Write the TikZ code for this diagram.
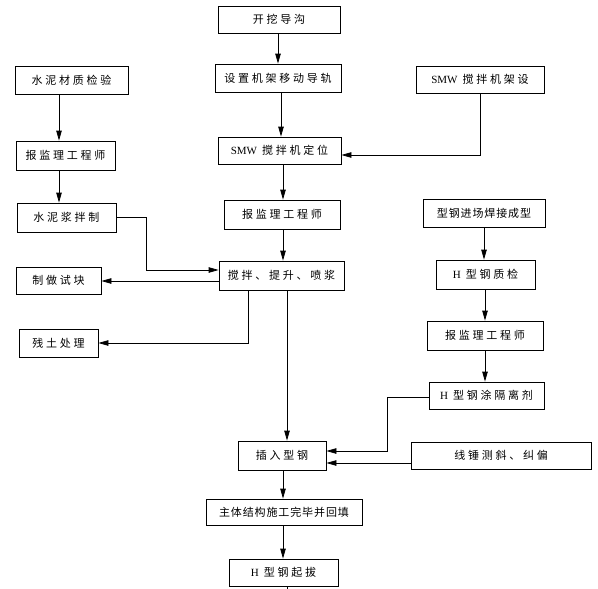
\documentclass[tikz,border=0pt]{standalone}
\usepackage{fontspec}
\setmainfont{Liberation Serif}
\newfontfamily\cjk[LetterSpace=25]{Noto Sans CJK SC}
\newfontfamily\cjktight[LetterSpace=8]{Noto Sans CJK SC}
\newfontfamily\latf{Liberation Serif}
\usetikzlibrary{arrows.meta}
\begin{document}
\begin{tikzpicture}[x=1pt,y=-1pt,
  box/.style={draw, line width=0.8pt, inner sep=0pt, font=\cjk\fontsize{11}{12}\selectfont},
  tight/.style={font=\cjktight\fontsize{11}{12}\selectfont},
  arr/.style={draw, line width=0.8pt, -{Triangle[length=10pt,width=5.5pt]}},
  ln/.style={draw, line width=0.8pt}]
\useasboundingbox (0,0) rectangle (598,589);
% nodes
\node[box, minimum width=122pt, minimum height=27pt] (kaiwa) at (279,19.5) {开挖导沟};
\node[box, minimum width=126pt, minimum height=28pt] (shezhi) at (278,78) {设置机架移动导轨};
\node[box, minimum width=123pt, minimum height=27pt] (dingwei) at (279.5,150.5) {{\latf SMW} 搅拌机定位};
\node[box, minimum width=113pt, minimum height=28pt] (snjy) at (71.5,80) {水泥材质检验};
\node[box, minimum width=99pt, minimum height=29pt] (bjL) at (65.5,155.5) {报监理工程师};
\node[box, minimum width=128pt, minimum height=27pt] (jiashe) at (480,79.5) {{\latf SMW} 搅拌机架设};
\node[box, minimum width=99pt, minimum height=29pt] (snj) at (66.5,217.5) {水泥浆拌制};
\node[box, minimum width=116pt, minimum height=29pt] (bjM) at (282,214.5) {报监理工程师};
\node[box, minimum width=125pt, minimum height=29pt] (jiaoban) at (281.5,275.5) {搅拌、提升、喷浆};
\node[box, minimum width=85pt, minimum height=27pt] (shikuai) at (58.5,280.5) {制做试块};
\node[box, minimum width=79pt, minimum height=28pt] (cantu) at (58.5,343) {残土处理};
\node[box, tight, minimum width=122pt, minimum height=28pt] (xinggang) at (484,213) {型钢进场焊接成型};
\node[box, minimum width=99pt, minimum height=29pt] (zhijian) at (485.5,274.5) {{\latf H} 型钢质检};
\node[box, minimum width=116pt, minimum height=29pt] (bjR) at (485,335.5) {报监理工程师};
\node[box, minimum width=115pt, minimum height=27pt] (tuge) at (486.5,395.5) {{\latf H} 型钢涂隔离剂};
\node[box, minimum width=88pt, minimum height=29pt] (charu) at (282,455.5) {插入型钢};
\node[box, minimum width=180pt, minimum height=27pt] (xianchui) at (501,455.5) {线锤测斜、纠偏};
\node[box, tight, minimum width=156pt, minimum height=26pt] (zhuti) at (284,512) {主体结构施工完毕并回填};
\node[box, minimum width=109pt, minimum height=27pt] (qiba) at (283.5,572.5) {{\latf H} 型钢起拔};
\coordinate (endpt) at (287,589);
% connectors
\draw[arr] (278,0 |- kaiwa.south) -- (278,0 |- shezhi.north);
\draw[arr] (281,0 |- shezhi.south) -- (281,0 |- dingwei.north);
\draw[arr] (283,0 |- dingwei.south) -- (283,0 |- bjM.north);
\draw[arr] (283,0 |- bjM.south) -- (283,0 |- jiaoban.north);
\draw[arr] (59,0 |- snjy.south) -- (59,0 |- bjL.north);
\draw[arr] (59,0 |- bjL.south) -- (59,0 |- snj.north);
\draw[arr] (jiashe.south) |- (dingwei.east |- 0,155);
\draw[arr] (snj.east) -| (146,270) -- (jiaoban.west |- 0,270);
\draw[arr] (jiaoban.west |- 0,281) -- (shikuai.east |- 0,281);
\draw[arr] (248,0 |- jiaoban.south) |- (cantu.east);
\draw[arr] (287,0 |- jiaoban.south) -- (287,0 |- charu.north);
\draw[arr] (484,0 |- xinggang.south) -- (484,0 |- zhijian.north);
\draw[arr] (485,0 |- zhijian.south) -- (485,0 |- bjR.north);
\draw[arr] (485,0 |- bjR.south) -- (485,0 |- tuge.north);
\draw[arr] (tuge.west |- 0,397) -| (387,451) -- (charu.east |- 0,451);
\draw[arr] (xianchui.west |- 0,463) -- (charu.east |- 0,463);
\draw[arr] (283,0 |- charu.south) -- (283,0 |- zhuti.north);
\draw[arr] (283,0 |- zhuti.south) -- (283,0 |- qiba.north);
\draw[ln] (287,0 |- qiba.south) -- (endpt);
\end{tikzpicture}
\end{document}
